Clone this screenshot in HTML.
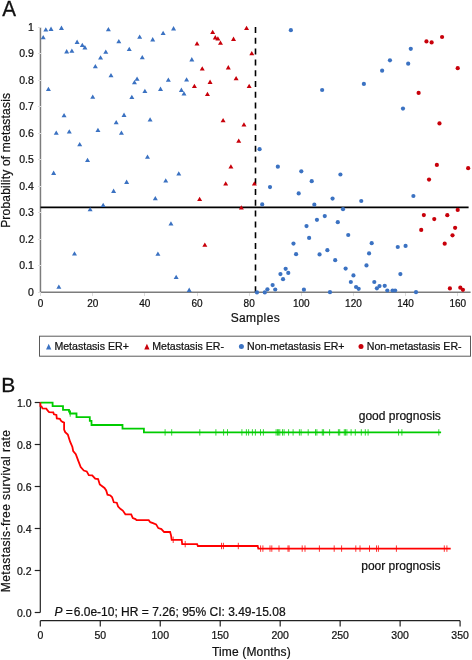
<!DOCTYPE html><html><head><meta charset="utf-8"><style>html,body{margin:0;padding:0;background:#fff;}svg{display:block;will-change:transform;}text{font-family:"Liberation Sans", sans-serif;stroke:#111;stroke-width:0.22px;}</style></head><body>
<svg width="472" height="660" viewBox="0 0 472 660">
<rect width="472" height="660" fill="#fff"/>
<text transform="translate(2.2 15.9) scale(0.96 1)" font-size="21.5" fill="#111" style="stroke-width:0.3px">A</text>
<g stroke="#7c7c7c" stroke-width="1.5" fill="none">
<path d="M40.45 27.5 V292.2 H470.6"/>
</g>
<g stroke="#dcdcdc" stroke-width="1" shape-rendering="crispEdges">
<path d="M37.5 292.4 H40.5"/>
<path d="M37.5 265.91 H40.5"/>
<path d="M37.5 239.42 H40.5"/>
<path d="M37.5 212.93 H40.5"/>
<path d="M37.5 186.44 H40.5"/>
<path d="M37.5 159.95 H40.5"/>
<path d="M37.5 133.46 H40.5"/>
<path d="M37.5 106.97 H40.5"/>
<path d="M37.5 80.48 H40.5"/>
<path d="M37.5 53.99 H40.5"/>
<path d="M37.5 27.5 H40.5"/>
<path d="M40.6 292.5 V295.5"/>
<path d="M92.74 292.5 V295.5"/>
<path d="M144.88 292.5 V295.5"/>
<path d="M197.02 292.5 V295.5"/>
<path d="M249.16 292.5 V295.5"/>
<path d="M301.3 292.5 V295.5"/>
<path d="M353.44 292.5 V295.5"/>
<path d="M405.58 292.5 V295.5"/>
<path d="M457.72 292.5 V295.5"/>
</g>
<g font-size="10.5" fill="#111" text-anchor="end">
<text x="33.9" y="295.8">0</text>
<text x="33.9" y="269.31">0.1</text>
<text x="33.9" y="242.82">0.2</text>
<text x="33.9" y="216.33">0.3</text>
<text x="33.9" y="189.84">0.4</text>
<text x="33.9" y="163.35">0.5</text>
<text x="33.9" y="136.86">0.6</text>
<text x="33.9" y="110.37">0.7</text>
<text x="33.9" y="83.88">0.8</text>
<text x="33.9" y="57.39">0.9</text>
<text x="33.9" y="30.9">1</text>
</g>
<g font-size="10" fill="#111" text-anchor="middle">
<text x="40.6" y="306.5">0</text>
<text x="92.74" y="306.5">20</text>
<text x="144.88" y="306.5">40</text>
<text x="197.02" y="306.5">60</text>
<text x="249.16" y="306.5">80</text>
<text x="301.3" y="306.5">100</text>
<text x="353.44" y="306.5">120</text>
<text x="405.58" y="306.5">140</text>
<text x="457.72" y="306.5">160</text>
</g>
<text x="255.4" y="321.8" font-size="12" letter-spacing="0.4" fill="#111" text-anchor="middle">Samples</text>
<text transform="translate(10.4 160.3) rotate(-90)" font-size="12" letter-spacing="0.2" fill="#111" text-anchor="middle">Probability of metastasis</text>
<path d="M40.5 207.35 H468.6" stroke="#000" stroke-width="1.7"/>
<path d="M255.5 27 V292" stroke="#000" stroke-width="1.6" stroke-dasharray="6 4.8"/>
<path fill="#3b72c2" d="M43.21 34.9L45.71 39.2H40.71ZM45.81 27.3L48.31 31.6H43.31ZM51.03 26.6L53.53 30.9H48.53ZM61.46 25.6L63.96 29.9H58.96ZM66.67 49.1L69.17 53.4H64.17ZM71.88 48.4L74.38 52.7H69.38ZM77.1 39.6L79.6 43.9H74.6ZM82.31 42.7L84.81 47H79.81ZM84.92 45.1L87.42 49.4H82.42ZM108.38 26.9L110.88 31.2H105.88ZM105.78 49.5L108.28 53.8H103.28ZM100.56 55.2L103.06 59.5H98.06ZM95.35 63.9L97.85 68.2H92.85ZM110.99 72.9L113.49 77.2H108.49ZM48.42 86.8L50.92 91.1H45.92ZM92.74 94.4L95.24 98.7H90.24ZM64.06 112.9L66.56 117.2H61.56ZM56.24 130.4L58.74 134.7H53.74ZM69.28 129.2L71.78 133.5H66.78ZM97.95 127.7L100.45 132H95.45ZM116.2 120L118.7 124.3H113.7ZM79.71 141.9L82.21 146.2H77.21ZM87.53 157.7L90.03 162H85.03ZM53.64 170.6L56.14 174.9H51.14ZM90.13 206.9L92.63 211.2H87.63ZM103.17 202.7L105.67 207H100.67ZM113.6 188.6L116.1 192.9H111.1ZM74.49 251.3L76.99 255.6H71.99ZM58.85 284.4L61.35 288.7H56.35ZM118.81 39L121.31 43.3H116.31ZM129.24 46.8L131.74 51.1H126.74ZM139.67 34.5L142.17 38.8H137.17ZM142.27 54.9L144.77 59.2H139.77ZM152.7 37.1L155.2 41.4H150.2ZM163.13 30.7L165.63 35H160.63ZM173.56 26.1L176.06 30.4H171.06ZM137.06 76.4L139.56 80.7H134.56ZM134.45 80L136.95 84.3H131.95ZM168.34 77.4L170.84 81.7H165.84ZM186.59 77.3L189.09 81.6H184.09ZM144.88 88.8L147.38 93.1H142.38ZM160.52 86.6L163.02 90.9H158.02ZM181.38 87.6L183.88 91.9H178.88ZM183.99 91.3L186.49 95.6H181.49ZM131.84 94.7L134.34 99H129.34ZM124.02 112.6L126.52 116.9H121.52ZM150.09 117.2L152.59 121.5H147.59ZM121.42 130.4L123.92 134.7H118.92ZM147.49 154.5L149.99 158.8H144.99ZM178.77 171.2L181.27 175.5H176.27ZM126.63 179.6L129.13 183.9H124.13ZM155.31 195.9L157.81 200.2H152.81ZM165.74 178.3L168.24 182.6H163.24ZM170.95 221.2L173.45 225.5H168.45ZM157.92 251.5L160.42 255.8H155.42ZM176.16 274.7L178.66 279H173.66ZM189.2 287.6L191.7 291.9H186.7ZM191.81 57.1L194.31 61.4H189.31Z"/>
<path fill="#c8000a" d="M197.02 41.3L199.52 45.6H194.52ZM202.23 66.2L204.73 70.5H199.73ZM194.41 83.7L196.91 88H191.91ZM210.06 79.6L212.56 83.9H207.56ZM207.45 91.8L209.95 96.1H204.95ZM212.66 29.8L215.16 34.1H210.16ZM215.27 35.1L217.77 39.4H212.77ZM217.88 36.2L220.38 40.5H215.38ZM220.48 40.5L222.98 44.8H217.98ZM233.52 36.6L236.02 40.9H231.02ZM228.3 65.1L230.8 69.4H225.8ZM236.12 75.9L238.62 80.2H233.62ZM249.16 83.7L251.66 88H246.66ZM246.55 25.7L249.05 30H244.05ZM251.77 51L254.27 55.3H249.27ZM223.09 118L225.59 122.3H220.59ZM243.95 122.3L246.45 126.6H241.45ZM238.73 138.4L241.23 142.7H236.23ZM230.91 164.3L233.41 168.6H228.41ZM199.63 196.8L202.13 201.1H197.13ZM225.7 181.2L228.2 185.5H223.2ZM254.37 181.2L256.87 185.5H251.87ZM241.34 205.2L243.84 209.5H238.84ZM204.84 242.4L207.34 246.7H202.34Z"/>
<g fill="#3b72c2">
<circle cx="259.59" cy="149.2" r="2.1"/>
<circle cx="262.2" cy="204.4" r="2.1"/>
<circle cx="256.98" cy="292.4" r="2.1"/>
<circle cx="264.8" cy="292.4" r="2.1"/>
<circle cx="290.87" cy="30.2" r="2.1"/>
<circle cx="322.16" cy="90" r="2.1"/>
<circle cx="277.84" cy="166.7" r="2.1"/>
<circle cx="301.3" cy="171.3" r="2.1"/>
<circle cx="340.41" cy="174.5" r="2.1"/>
<circle cx="270.02" cy="187.1" r="2.1"/>
<circle cx="311.73" cy="181.2" r="2.1"/>
<circle cx="298.69" cy="193.4" r="2.1"/>
<circle cx="314.34" cy="204.7" r="2.1"/>
<circle cx="332.58" cy="198.6" r="2.1"/>
<circle cx="324.76" cy="216.1" r="2.1"/>
<circle cx="316.94" cy="219.8" r="2.1"/>
<circle cx="306.51" cy="226.1" r="2.1"/>
<circle cx="337.8" cy="222.2" r="2.1"/>
<circle cx="309.12" cy="237.9" r="2.1"/>
<circle cx="293.48" cy="243.6" r="2.1"/>
<circle cx="327.37" cy="250.2" r="2.1"/>
<circle cx="296.09" cy="254.2" r="2.1"/>
<circle cx="319.55" cy="254.4" r="2.1"/>
<circle cx="335.19" cy="260.2" r="2.1"/>
<circle cx="285.66" cy="268.8" r="2.1"/>
<circle cx="288.27" cy="272.9" r="2.1"/>
<circle cx="280.44" cy="274.1" r="2.1"/>
<circle cx="283.05" cy="279.2" r="2.1"/>
<circle cx="272.62" cy="285.1" r="2.1"/>
<circle cx="267.41" cy="289.3" r="2.1"/>
<circle cx="275.23" cy="289.5" r="2.1"/>
<circle cx="303.91" cy="289.7" r="2.1"/>
<circle cx="329.98" cy="292.2" r="2.1"/>
<circle cx="363.87" cy="83.9" r="2.1"/>
<circle cx="382.12" cy="70.7" r="2.1"/>
<circle cx="389.94" cy="60.3" r="2.1"/>
<circle cx="408.19" cy="63.7" r="2.1"/>
<circle cx="410.79" cy="48.8" r="2.1"/>
<circle cx="402.97" cy="108.6" r="2.1"/>
<circle cx="361.26" cy="201" r="2.1"/>
<circle cx="413.4" cy="196" r="2.1"/>
<circle cx="343.01" cy="209.2" r="2.1"/>
<circle cx="348.23" cy="235" r="2.1"/>
<circle cx="371.69" cy="243.2" r="2.1"/>
<circle cx="397.76" cy="247" r="2.1"/>
<circle cx="405.58" cy="245.9" r="2.1"/>
<circle cx="369.08" cy="253.4" r="2.1"/>
<circle cx="366.48" cy="265.4" r="2.1"/>
<circle cx="345.62" cy="268.6" r="2.1"/>
<circle cx="353.44" cy="275.4" r="2.1"/>
<circle cx="350.83" cy="282" r="2.1"/>
<circle cx="356.05" cy="287" r="2.1"/>
<circle cx="358.65" cy="288.8" r="2.1"/>
<circle cx="374.3" cy="282" r="2.1"/>
<circle cx="376.9" cy="288.3" r="2.1"/>
<circle cx="379.51" cy="286.1" r="2.1"/>
<circle cx="384.72" cy="285.8" r="2.1"/>
<circle cx="387.33" cy="290.5" r="2.1"/>
<circle cx="392.55" cy="290.5" r="2.1"/>
<circle cx="395.15" cy="290.5" r="2.1"/>
<circle cx="400.37" cy="274.1" r="2.1"/>
<circle cx="416.01" cy="292.2" r="2.1"/>
</g>
<g fill="#c8000a">
<circle cx="426.44" cy="41.4" r="2.1"/>
<circle cx="431.65" cy="42.4" r="2.1"/>
<circle cx="442.08" cy="37" r="2.1"/>
<circle cx="457.72" cy="68.2" r="2.1"/>
<circle cx="418.62" cy="92.9" r="2.1"/>
<circle cx="439.47" cy="123.4" r="2.1"/>
<circle cx="436.86" cy="164.9" r="2.1"/>
<circle cx="468.15" cy="168.2" r="2.1"/>
<circle cx="429.04" cy="179.6" r="2.1"/>
<circle cx="457.72" cy="209.9" r="2.1"/>
<circle cx="423.83" cy="215.1" r="2.1"/>
<circle cx="447.29" cy="215.2" r="2.1"/>
<circle cx="434.26" cy="219.1" r="2.1"/>
<circle cx="455.11" cy="227.8" r="2.1"/>
<circle cx="421.22" cy="229.9" r="2.1"/>
<circle cx="452.51" cy="235.3" r="2.1"/>
<circle cx="444.69" cy="243.7" r="2.1"/>
<circle cx="449.9" cy="288.4" r="2.1"/>
<circle cx="460.33" cy="287.7" r="2.1"/>
<circle cx="462.93" cy="289.8" r="2.1"/>
</g>
<rect x="39.5" y="336.2" width="431" height="20" fill="none" stroke="#5a5a5a" stroke-width="1"/>
<g font-size="10.6" fill="#111">
<path fill="#3b72c2" d="M48.7 343.8L51.35 349.4H46.05Z"/>
<text x="54.4" y="350.2">Metastasis ER+</text>
<path fill="#c8000a" d="M146.9 343.8L149.55 349.4H144.25Z"/>
<text x="152.2" y="350.2">Metastasis ER-</text>
<circle cx="241.4" cy="346.6" r="2.5" fill="#3b72c2"/>
<text x="247.1" y="350.2">Non-metastasis ER+</text>
<circle cx="361" cy="346.6" r="2.5" fill="#c8000a"/>
<text x="366.8" y="350.2">Non-metastasis ER-</text>
</g>
<text x="1.2" y="392.2" font-size="21" fill="#111" style="stroke-width:0.3px">B</text>
<g stroke="#222" stroke-width="1.2" fill="none">
<path d="M40.3 402.5 V612.5"/>
<path d="M34.7 612.5 H40.3"/>
<path d="M34.7 570.5 H40.3"/>
<path d="M34.7 528.5 H40.3"/>
<path d="M34.7 486.5 H40.3"/>
<path d="M34.7 444.5 H40.3"/>
<path d="M34.7 402.5 H40.3"/>
<path d="M40.3 620.7 H460.1"/>
<path d="M40.3 620.7 V626.5"/>
<path d="M100.27 620.7 V626.5"/>
<path d="M160.24 620.7 V626.5"/>
<path d="M220.21 620.7 V626.5"/>
<path d="M280.18 620.7 V626.5"/>
<path d="M340.15 620.7 V626.5"/>
<path d="M400.12 620.7 V626.5"/>
<path d="M460.09 620.7 V626.5"/>
</g>
<g font-size="10.5" fill="#111" text-anchor="end">
<text x="31.6" y="617">0.0</text>
<text x="31.6" y="575">0.2</text>
<text x="31.6" y="533">0.4</text>
<text x="31.6" y="491">0.6</text>
<text x="31.6" y="449">0.8</text>
<text x="31.6" y="407">1.0</text>
</g>
<g font-size="10.5" fill="#111" text-anchor="middle">
<text x="40.3" y="639.2">0</text>
<text x="100.27" y="639.2">50</text>
<text x="160.24" y="639.2">100</text>
<text x="220.21" y="639.2">150</text>
<text x="280.18" y="639.2">200</text>
<text x="340.15" y="639.2">250</text>
<text x="400.12" y="639.2">300</text>
<text x="460.09" y="639.2">350</text>
</g>
<text x="251.4" y="656.2" font-size="12" letter-spacing="0.15" fill="#111" text-anchor="middle">Time (Months)</text>
<text transform="translate(10.4 510.9) rotate(-90)" font-size="12" letter-spacing="0.43" fill="#111" text-anchor="middle">Metastasis-free survival rate</text>
<text x="54.4" y="615.8" font-size="12" fill="#111"><tspan font-style="italic">P</tspan> =<tspan dx="1">6.0e-10</tspan>; HR = 7.26; 95% CI: 3.49-15.08</text>
<text x="440.8" y="419.6" font-size="12" fill="#111" text-anchor="end">good prognosis</text>
<text x="440.6" y="570.3" font-size="12" fill="#111" text-anchor="end">poor prognosis</text>
<path fill="none" stroke="#00cc00" stroke-width="1.8" d="M40.3 402.6 L52.6 402.6 L52.6 406.2 L63 406.2 L63 409.8 L69 409.8 L69 411.6 L70 411.6 L70 413.5 L76.5 413.5 L76.5 417.1 L89.8 417.1 L89.8 420.9 L91.5 420.9 L91.5 425 L122.5 425 L122.5 428.6 L143.9 428.6 L143.9 432.4 L441.1 432.4"/>
<path fill="none" stroke="#00cc00" stroke-width="1" stroke-opacity="0.8" d="M70.2 410.3v6.4M165.1 429.2v6.4M171.7 429.2v6.4M199.8 429.2v6.4M215.9 429.2v6.4M223.6 429.2v6.4M227.5 429.2v6.4M241.9 429.2v6.4M246.4 429.2v6.4M248.6 429.2v6.4M252.4 429.2v6.4M255.4 429.2v6.4M260.5 429.2v6.4M263.4 429.2v6.4M276.1 429.2v6.4M277.5 429.2v6.4M278.6 429.2v6.4M279.8 429.2v6.4M282.5 429.2v6.4M284.1 429.2v6.4M288.6 429.2v6.4M293.1 429.2v6.4M299.4 429.2v6.4M301.1 429.2v6.4M308.2 429.2v6.4M315.5 429.2v6.4M316.9 429.2v6.4M322.3 429.2v6.4M323.6 429.2v6.4M329.6 429.2v6.4M338.4 429.2v6.4M339.7 429.2v6.4M344.3 429.2v6.4M345.5 429.2v6.4M346.9 429.2v6.4M351.1 429.2v6.4M355.3 429.2v6.4M361.3 429.2v6.4M365.3 429.2v6.4M368.1 429.2v6.4M398.6 429.2v6.4M401.9 429.2v6.4M438.8 429.2v6.4"/>
<path fill="none" stroke="#ff0000" stroke-width="1.8" d="M40.4 402.5 L40.4 406 L41.5 406.4 L42.5 408.3 L46.3 408.6 L47.5 410.5 L49.1 412.1 L53.3 412.4 L53.9 414.3 L56.4 414.9 L56.8 418.4 L59.9 418.8 L60.9 420.7 L62.5 421.9 L64.1 422.6 L64.1 429.5 L65.2 432.2 L67.8 434.5 L70.1 441.7 L72.4 447 L73.2 451.1 L75.8 454.2 L78.5 461.4 L80.7 467 L83.8 470.5 L86.7 471.4 L88.8 475.2 L92.2 475.3 L95.2 478.7 L98.1 479 L99.8 484.5 L104.5 487.9 L106.2 490.4 L107.5 494.7 L110.4 495.5 L112.1 497.2 L113.8 502.3 L116.8 502.7 L118.1 506.5 L120.6 509.1 L122.8 510.6 L125.4 514.3 L131.2 514.3 L132.8 518 L135.5 519.1 L136.5 520.1 L148.7 520.1 L150.3 522.2 L153 523.1 L156.1 524.4 L158.3 528.1 L161.4 529.1 L164.1 532 L170.1 532 L171.1 535.6 L171.7 539.8 L181.7 539.8 L182.2 544.1 L197.1 544.1 L197.9 546 L257.7 546 L258.3 548.6 L450.7 548.6"/>
<path fill="none" stroke="#ff0000" stroke-width="1" stroke-opacity="0.8" d="M173.2 536.6v6.4M185.2 540.9v6.4M221.5 542.8v6.4M223.4 542.8v6.4M238.3 542.8v6.4M260.6 545.4v6.4M262.9 545.4v6.4M270 545.4v6.4M271.8 545.4v6.4M279 545.4v6.4M288 545.4v6.4M289.1 545.4v6.4M302.2 545.4v6.4M305 545.4v6.4M319.4 545.4v6.4M334.2 545.4v6.4M341.6 545.4v6.4M355.8 545.4v6.4M360 545.4v6.4M369.5 545.4v6.4M376.5 545.4v6.4M378.4 545.4v6.4M396.4 545.4v6.4M444.3 545.4v6.4M446.9 545.4v6.4"/>
</svg></body></html>
